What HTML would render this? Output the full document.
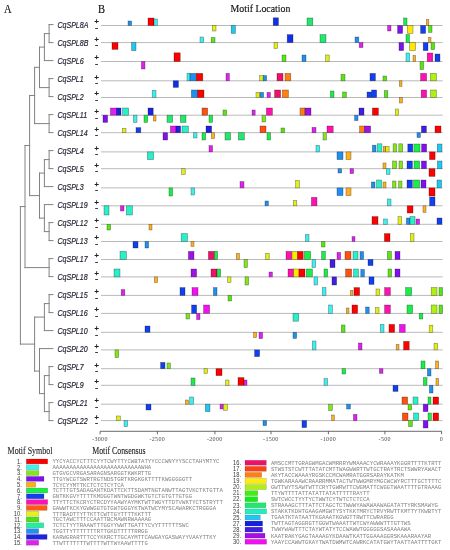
<!DOCTYPE html><html><head><meta charset="utf-8"><title>Motif Location</title><style>html,body{margin:0;padding:0;background:#fff;overflow:hidden}svg{display:block}</style></head><body>
<svg width="450" height="550" viewBox="0 0 450 550">
<rect width="450" height="550" fill="#fff"/>
<g font-family="'Liberation Serif', serif" fill="#111" stroke="#111" stroke-width="0.15">
<text transform="translate(3.9 12.5) scale(0.8 1)" font-size="13.2">A</text>
<text transform="translate(98.0 12.5) scale(0.8 1)" font-size="13.2">B</text>
<text x="230.6" y="11.8" font-size="11.2" textLength="59.8" lengthAdjust="spacingAndGlyphs">Motif Location</text>
</g>
<path d="M49.1 24.6V42.6M49.1 24.6H53M49.1 42.6H53M44.4 33.6V60.6M44.4 33.6H49.1M44.4 60.6H53M49.1 78.6V96.6M49.1 78.6H53M49.1 96.6H53M39.5 47.1V87.6M39.5 47.1H44.4M39.5 87.6H49.1M49.1 114.6V132.6M49.1 114.6H53M49.1 132.6H53M34.6 67.35V123.6M34.6 67.35H39.5M34.6 123.6H49.1M49.1 150.6V168.6M49.1 150.6H53M49.1 168.6H53M44.4 159.6V186.6M44.4 159.6H49.1M44.4 186.6H53M49.1 222.6V240.6M49.1 222.6H53M49.1 240.6H53M44.4 204.6V231.6M44.4 204.6H53M44.4 231.6H49.1M39.5 173.1V218.1M39.5 173.1H44.4M39.5 218.1H44.4M29.6 95.47V195.6M29.6 95.47H34.6M29.6 195.6H39.5M49.1 258.6V276.6M49.1 258.6H53M49.1 276.6H53M25 145.54V267.6M25 145.54H29.6M25 267.6H49.1M49.1 294.6V312.6M49.1 294.6H53M49.1 312.6H53M44.4 303.6V330.6M44.4 303.6H49.1M44.4 330.6H53M49.1 366.6V384.6M49.1 366.6H53M49.1 384.6H53M49.1 402.6V420.6M49.1 402.6H53M49.1 420.6H53M44.4 375.6V411.6M44.4 375.6H49.1M44.4 411.6H49.1M39.5 348.6V393.6M39.5 348.6H53M39.5 393.6H44.4M34.6 317.1V371.1M34.6 317.1H44.4M34.6 371.1H39.5M20.4 206.57V344.1M20.4 206.57H25M20.4 344.1H34.6" stroke="#828282" stroke-width="1" fill="none" stroke-linecap="square"/>
<g font-family="'Liberation Sans', sans-serif" font-style="italic" font-size="9.1" fill="#262636" stroke="#262636" stroke-width="0.2">
<text transform="translate(57.4 28.05) scale(0.778 1)">CqSPL8A</text>
<text transform="translate(57.4 46.05) scale(0.778 1)">CqSPL8B</text>
<text transform="translate(57.4 64.05) scale(0.778 1)">CqSPL6</text>
<text transform="translate(57.4 82.05) scale(0.778 1)">CqSPL1</text>
<text transform="translate(57.4 100.05) scale(0.778 1)">CqSPL2</text>
<text transform="translate(57.4 118.05) scale(0.778 1)">CqSPL11</text>
<text transform="translate(57.4 136.05) scale(0.778 1)">CqSPL14</text>
<text transform="translate(57.4 154.05) scale(0.778 1)">CqSPL4</text>
<text transform="translate(57.4 172.05) scale(0.778 1)">CqSPL5</text>
<text transform="translate(57.4 190.05) scale(0.778 1)">CqSPL3</text>
<text transform="translate(57.4 208.05) scale(0.778 1)">CqSPL19</text>
<text transform="translate(57.4 226.05) scale(0.778 1)">CqSPL12</text>
<text transform="translate(57.4 244.05) scale(0.778 1)">CqSPL13</text>
<text transform="translate(57.4 262.05) scale(0.778 1)">CqSPL17</text>
<text transform="translate(57.4 280.05) scale(0.778 1)">CqSPL18</text>
<text transform="translate(57.4 298.05) scale(0.778 1)">CqSPL15</text>
<text transform="translate(57.4 316.05) scale(0.778 1)">CqSPL16</text>
<text transform="translate(57.4 334.05) scale(0.778 1)">CqSPL10</text>
<text transform="translate(57.4 352.05) scale(0.778 1)">CqSPL20</text>
<text transform="translate(57.4 370.05) scale(0.778 1)">CqSPL7</text>
<text transform="translate(57.4 388.05) scale(0.778 1)">CqSPL9</text>
<text transform="translate(57.4 406.05) scale(0.778 1)">CqSPL21</text>
<text transform="translate(57.4 424.05) scale(0.778 1)">CqSPL22</text>
</g>
<g font-family="'Liberation Sans', sans-serif" fill="#1e1e1e" stroke="#1e1e1e" stroke-width="0.35" text-anchor="middle">
<text x="96.7" y="24.4" font-size="7.4">+</text>
<text x="96.7" y="31" font-size="9.6">-</text>
<text x="96.7" y="41.5" font-size="7.4">+</text>
<text x="96.7" y="48.1" font-size="9.6">-</text>
<text x="96.7" y="60.4" font-size="7.4">+</text>
<text x="96.7" y="67" font-size="9.6">-</text>
<text x="96.7" y="79.7" font-size="7.4">+</text>
<text x="96.7" y="86.3" font-size="9.6">-</text>
<text x="96.7" y="96.4" font-size="7.4">+</text>
<text x="96.7" y="103" font-size="9.6">-</text>
<text x="96.7" y="114.1" font-size="7.4">+</text>
<text x="96.7" y="120.7" font-size="9.6">-</text>
<text x="96.7" y="131.6" font-size="7.4">+</text>
<text x="96.7" y="138.2" font-size="9.6">-</text>
<text x="96.7" y="150.8" font-size="7.4">+</text>
<text x="96.7" y="157.4" font-size="9.6">-</text>
<text x="96.7" y="167.6" font-size="7.4">+</text>
<text x="96.7" y="174.2" font-size="9.6">-</text>
<text x="96.7" y="186.8" font-size="7.4">+</text>
<text x="96.7" y="193.4" font-size="9.6">-</text>
<text x="96.7" y="204.7" font-size="7.4">+</text>
<text x="96.7" y="211.3" font-size="9.6">-</text>
<text x="96.7" y="223.2" font-size="7.4">+</text>
<text x="96.7" y="229.8" font-size="9.6">-</text>
<text x="96.7" y="240.4" font-size="7.4">+</text>
<text x="96.7" y="247" font-size="9.6">-</text>
<text x="96.7" y="258.4" font-size="7.4">+</text>
<text x="96.7" y="265" font-size="9.6">-</text>
<text x="96.7" y="275.8" font-size="7.4">+</text>
<text x="96.7" y="282.4" font-size="9.6">-</text>
<text x="96.7" y="294.3" font-size="7.4">+</text>
<text x="96.7" y="300.9" font-size="9.6">-</text>
<text x="96.7" y="312.3" font-size="7.4">+</text>
<text x="96.7" y="318.9" font-size="9.6">-</text>
<text x="96.7" y="331.2" font-size="7.4">+</text>
<text x="96.7" y="337.8" font-size="9.6">-</text>
<text x="96.7" y="348.8" font-size="7.4">+</text>
<text x="96.7" y="355.4" font-size="9.6">-</text>
<text x="96.7" y="367.6" font-size="7.4">+</text>
<text x="96.7" y="374.2" font-size="9.6">-</text>
<text x="96.7" y="384.2" font-size="7.4">+</text>
<text x="96.7" y="390.8" font-size="9.6">-</text>
<text x="96.7" y="403.1" font-size="7.4">+</text>
<text x="96.7" y="409.7" font-size="9.6">-</text>
<text x="96.7" y="419.5" font-size="7.4">+</text>
<text x="96.7" y="426.1" font-size="9.6">-</text>
</g>
<path d="M101 25.5H442.6M101 42.6H442.6M101 61.5H442.6M101 80.8H442.6M101 97.5H442.6M101 115.2H442.6M101 132.7H442.6M101 151.9H442.6M101 168.7H442.6M101 187.9H442.6M101 205.8H442.6M101 224.3H442.6M101 241.5H442.6M101 259.5H442.6M101 276.9H442.6M101 295.4H442.6M101 313.4H442.6M101 332.3H442.6M101 349.9H442.6M101 368.7H442.6M101 385.3H442.6M101 404.2H442.6M101 420.6H442.6" stroke="#bababa" stroke-width="1.0" fill="none"/>
<g stroke="#000" stroke-opacity="0.45" stroke-width="0.6">
<rect x="128" y="21" width="3.6" height="4.5" fill="#2090f0"/>
<rect x="148" y="18" width="6" height="7.5" fill="#ff0000"/>
<rect x="154" y="19" width="3.4" height="6.5" fill="#3cf0f0"/>
<rect x="273.2" y="17.8" width="5.2" height="7.7" fill="#1030e8"/>
<rect x="307" y="18" width="5.8" height="7.5" fill="#20e870"/>
<rect x="403.6" y="18" width="3.4" height="7.5" fill="#18f048"/>
<rect x="426.4" y="19.4" width="2.4" height="6.1" fill="#ffb020"/>
<rect x="212.4" y="25.5" width="3.6" height="5.5" fill="#e0f010"/>
<rect x="231.2" y="25.5" width="4.2" height="7.9" fill="#20c8f0"/>
<rect x="387.6" y="25.5" width="3.4" height="5.5" fill="#e020f0"/>
<rect x="397.6" y="25.5" width="5" height="7.9" fill="#8010f0"/>
<rect x="407.4" y="25.5" width="5.6" height="7.9" fill="#ffe800"/>
<rect x="420.6" y="25.5" width="5" height="7.9" fill="#1040f0"/>
<rect x="428.6" y="25.5" width="3.4" height="6.9" fill="#58e810"/>
<rect x="200" y="37" width="3.6" height="5.6" fill="#3cf0f0"/>
<rect x="211.2" y="37.6" width="3.8" height="5" fill="#58e810"/>
<rect x="287.2" y="34.6" width="5.8" height="8" fill="#1030e8"/>
<rect x="320" y="34.6" width="6" height="8" fill="#20e870"/>
<rect x="355" y="37" width="3.8" height="5.6" fill="#2090f0"/>
<rect x="406" y="34.6" width="3.4" height="8" fill="#18f048"/>
<rect x="428.6" y="37.4" width="2.4" height="5.2" fill="#ffb020"/>
<rect x="112" y="42.6" width="6" height="6.8" fill="#ff0000"/>
<rect x="131.6" y="42.6" width="4.4" height="8" fill="#20c8f0"/>
<rect x="274" y="42.6" width="3.6" height="5.9" fill="#e0f010"/>
<rect x="359.2" y="42.6" width="3.8" height="5" fill="#e020f0"/>
<rect x="399" y="42.6" width="4.6" height="8" fill="#8010f0"/>
<rect x="409.6" y="42.6" width="6" height="8" fill="#ffe800"/>
<rect x="423.2" y="42.6" width="4.8" height="8" fill="#1040f0"/>
<rect x="431" y="42.6" width="3.6" height="7" fill="#58e810"/>
<rect x="174" y="52.8" width="6.2" height="8.7" fill="#ff0000"/>
<rect x="282" y="55" width="4" height="6.5" fill="#58e810"/>
<rect x="302" y="55" width="4" height="6.5" fill="#2090f0"/>
<rect x="325.6" y="55" width="3.6" height="6.5" fill="#e0f010"/>
<rect x="406" y="53" width="3.6" height="8.5" fill="#3cf0f0"/>
<rect x="413" y="55.4" width="2.6" height="6.1" fill="#ffb020"/>
<rect x="427.2" y="53" width="5.6" height="8.5" fill="#ff10b0"/>
<rect x="435" y="54" width="5" height="7.5" fill="#1040f0"/>
<rect x="141.4" y="61.5" width="3.6" height="7.5" fill="#e020f0"/>
<rect x="420" y="61.5" width="3.6" height="8.1" fill="#58e810"/>
<rect x="187" y="73.4" width="3" height="7.4" fill="#3cf0f0"/>
<rect x="190" y="73.4" width="6.4" height="7.4" fill="#2090f0"/>
<rect x="196.4" y="73.4" width="6.4" height="7.4" fill="#ff0000"/>
<rect x="226" y="73.4" width="3.4" height="7.4" fill="#e020f0"/>
<rect x="259.6" y="75.6" width="3.6" height="5.2" fill="#e0f010"/>
<rect x="263.2" y="75.6" width="3.4" height="5.2" fill="#2090f0"/>
<rect x="277" y="73.4" width="6" height="7.4" fill="#f01068"/>
<rect x="285" y="73.4" width="5.8" height="7.4" fill="#ff8010"/>
<rect x="341" y="74.4" width="4" height="6.4" fill="#58e810"/>
<rect x="370" y="73.4" width="5.4" height="7.4" fill="#1040f0"/>
<rect x="383" y="76" width="3.6" height="4.8" fill="#58e810"/>
<rect x="420.6" y="73.4" width="6" height="7.4" fill="#ff10b0"/>
<rect x="430.4" y="73.4" width="6" height="7.4" fill="#b0f010"/>
<rect x="173.2" y="80.8" width="5.2" height="6.6" fill="#1030e8"/>
<rect x="399.4" y="80.8" width="2.6" height="5.6" fill="#ffb020"/>
<rect x="152.2" y="90.4" width="3.8" height="7.1" fill="#3cf0f0"/>
<rect x="191.4" y="90" width="6.2" height="7.5" fill="#2090f0"/>
<rect x="197.6" y="90" width="6.4" height="7.5" fill="#ff0000"/>
<rect x="256" y="92.4" width="3.6" height="5.1" fill="#e0f010"/>
<rect x="260" y="92.4" width="3.6" height="5.1" fill="#2090f0"/>
<rect x="267" y="92.4" width="3.4" height="5.1" fill="#e020f0"/>
<rect x="274.6" y="90" width="6" height="7.5" fill="#f01068"/>
<rect x="282.4" y="90" width="6" height="7.5" fill="#ff8010"/>
<rect x="330.4" y="91" width="3.6" height="6.5" fill="#18f048"/>
<rect x="342.6" y="92" width="3.8" height="5.5" fill="#58e810"/>
<rect x="367" y="92" width="4.6" height="5.5" fill="#1040f0"/>
<rect x="371.6" y="90" width="5" height="7.5" fill="#1040f0"/>
<rect x="384.4" y="90.6" width="3.4" height="6.9" fill="#58e810"/>
<rect x="421.2" y="90" width="5.4" height="7.5" fill="#ff10b0"/>
<rect x="430.6" y="90" width="5.8" height="7.5" fill="#b0f010"/>
<rect x="399.4" y="97.5" width="3" height="5.5" fill="#ffb020"/>
<rect x="110.4" y="108" width="6" height="7.2" fill="#e020f0"/>
<rect x="116.4" y="108" width="4.6" height="7.2" fill="#2020e0"/>
<rect x="122.6" y="108" width="6" height="7.2" fill="#28f0c8"/>
<rect x="148" y="108" width="5.2" height="7.2" fill="#2020e0"/>
<rect x="202" y="108" width="5.6" height="7.2" fill="#ff5010"/>
<rect x="223" y="110" width="3.6" height="5.2" fill="#58e810"/>
<rect x="252" y="110" width="3.2" height="5.2" fill="#e020f0"/>
<rect x="266.4" y="108" width="6" height="7.2" fill="#ff10b0"/>
<rect x="300" y="108" width="5" height="7.2" fill="#ff8010"/>
<rect x="305" y="108" width="6" height="7.2" fill="#a010e8"/>
<rect x="359" y="108" width="5" height="7.2" fill="#4020e0"/>
<rect x="372.4" y="108" width="6" height="7.2" fill="#ff0000"/>
<rect x="395.4" y="109" width="3.2" height="6.2" fill="#e0f010"/>
<rect x="103" y="115.2" width="4.6" height="7.2" fill="#8010f0"/>
<rect x="133.4" y="115.2" width="3.6" height="7.2" fill="#3cf0f0"/>
<rect x="144" y="115.2" width="3.6" height="7.2" fill="#18f048"/>
<rect x="153.4" y="115.2" width="2.6" height="5.8" fill="#ffb020"/>
<rect x="167" y="115.2" width="5.6" height="7.2" fill="#20e870"/>
<rect x="180.4" y="115.2" width="5.6" height="7.2" fill="#20e870"/>
<rect x="209" y="115.2" width="3.6" height="7.2" fill="#18f048"/>
<rect x="262" y="115.2" width="3.6" height="6.8" fill="#80e818"/>
<rect x="354.6" y="115.2" width="3.4" height="5.4" fill="#2090f0"/>
<rect x="122.4" y="128.4" width="3.6" height="4.3" fill="#e0f010"/>
<rect x="136" y="127.6" width="4.8" height="5.1" fill="#1040f0"/>
<rect x="170.4" y="126" width="5.6" height="6.7" fill="#e020f0"/>
<rect x="176" y="126" width="4.6" height="6.7" fill="#2020e0"/>
<rect x="182" y="126" width="6.4" height="6.7" fill="#28f0c8"/>
<rect x="206" y="126" width="5.6" height="6.7" fill="#2020e0"/>
<rect x="260" y="126" width="6" height="6.7" fill="#ff5010"/>
<rect x="281" y="128" width="3.6" height="4.7" fill="#58e810"/>
<rect x="312" y="127.4" width="4" height="5.3" fill="#e020f0"/>
<rect x="327" y="126" width="6.2" height="6.7" fill="#ff10b0"/>
<rect x="359.6" y="126" width="4.8" height="6.7" fill="#ff8010"/>
<rect x="364.4" y="126" width="6.2" height="6.7" fill="#a010e8"/>
<rect x="421.4" y="126" width="5" height="6.7" fill="#4020e0"/>
<rect x="435" y="126" width="6" height="6.7" fill="#ff0000"/>
<rect x="163" y="132.7" width="4.6" height="7.3" fill="#8010f0"/>
<rect x="193.4" y="132.7" width="3.6" height="5.3" fill="#3cf0f0"/>
<rect x="202" y="132.7" width="3.6" height="7.3" fill="#18f048"/>
<rect x="211.4" y="132.7" width="3.2" height="5.9" fill="#ffb020"/>
<rect x="225" y="132.7" width="5.6" height="7.3" fill="#20e870"/>
<rect x="238.4" y="132.7" width="6" height="7.3" fill="#20e870"/>
<rect x="267" y="132.7" width="3.6" height="7.3" fill="#18f048"/>
<rect x="323" y="132.7" width="3.4" height="7.3" fill="#80e818"/>
<rect x="417" y="132.7" width="3.4" height="4.9" fill="#2090f0"/>
<rect x="209" y="145.6" width="3.6" height="6.3" fill="#e020f0"/>
<rect x="316" y="145.4" width="3.6" height="6.5" fill="#3cf0f0"/>
<rect x="372.4" y="145.2" width="3.6" height="6.7" fill="#2090f0"/>
<rect x="377.2" y="143.8" width="4.7" height="8.1" fill="#28f0c8"/>
<rect x="383.3" y="146.4" width="2.4" height="5.5" fill="#ffb020"/>
<rect x="385.7" y="146.4" width="3.4" height="5.5" fill="#e0f010"/>
<rect x="393.1" y="143.8" width="3.5" height="8.1" fill="#80e818"/>
<rect x="398.8" y="143.8" width="3.9" height="8.1" fill="#80e818"/>
<rect x="407.8" y="144" width="5" height="7.9" fill="#1040f0"/>
<rect x="413.9" y="144" width="6.1" height="7.9" fill="#18f048"/>
<rect x="421.6" y="144" width="5" height="7.9" fill="#8010f0"/>
<rect x="437.3" y="144" width="4.7" height="7.9" fill="#20c8f0"/>
<rect x="147.4" y="151.9" width="6.2" height="7.7" fill="#28f0c8"/>
<rect x="337" y="151.9" width="6" height="7.7" fill="#2090f0"/>
<rect x="346" y="151.9" width="5" height="7.7" fill="#ffb020"/>
<rect x="429.5" y="151.9" width="5.6" height="7.7" fill="#ff0000"/>
<rect x="383" y="163" width="3" height="5.7" fill="#ffb020"/>
<rect x="392.6" y="161" width="4" height="7.7" fill="#80e818"/>
<rect x="399" y="161" width="3.6" height="7.7" fill="#80e818"/>
<rect x="407" y="161" width="5.4" height="7.7" fill="#1040f0"/>
<rect x="414" y="161" width="5.6" height="7.7" fill="#18f048"/>
<rect x="421.4" y="161" width="5" height="7.7" fill="#8010f0"/>
<rect x="437.4" y="161" width="4.6" height="7.7" fill="#20c8f0"/>
<rect x="181.6" y="168.7" width="3.6" height="5.7" fill="#e0f010"/>
<rect x="338" y="168.7" width="3.6" height="4.3" fill="#2090f0"/>
<rect x="350" y="168.7" width="3.6" height="4.9" fill="#e020f0"/>
<rect x="386.4" y="168.7" width="3.6" height="5.7" fill="#3cf0f0"/>
<rect x="429" y="168.7" width="6" height="7.7" fill="#ff0000"/>
<rect x="240" y="181.6" width="4" height="6.3" fill="#e020f0"/>
<rect x="295.6" y="180.6" width="3.8" height="7.3" fill="#e0f010"/>
<rect x="371.4" y="182" width="3.6" height="5.9" fill="#2090f0"/>
<rect x="376.6" y="180" width="5" height="7.9" fill="#28f0c8"/>
<rect x="383" y="182" width="3" height="5.9" fill="#ffb020"/>
<rect x="392.6" y="181" width="3.4" height="6.9" fill="#80e818"/>
<rect x="398.6" y="181" width="3.4" height="6.9" fill="#80e818"/>
<rect x="407" y="180" width="5.4" height="7.9" fill="#1040f0"/>
<rect x="413.6" y="180" width="6" height="7.9" fill="#18f048"/>
<rect x="421" y="180" width="5" height="7.9" fill="#8010f0"/>
<rect x="437" y="180" width="4.6" height="7.9" fill="#20c8f0"/>
<rect x="169" y="187.9" width="3.6" height="8.1" fill="#18f048"/>
<rect x="191" y="187.9" width="3.6" height="7.1" fill="#3cf0f0"/>
<rect x="337" y="187.9" width="6" height="7.7" fill="#2090f0"/>
<rect x="346" y="187.9" width="5" height="7.7" fill="#ffb020"/>
<rect x="429" y="187.9" width="6" height="8.1" fill="#ff0000"/>
<rect x="265" y="201" width="3.4" height="4.8" fill="#2090f0"/>
<rect x="293.4" y="200.4" width="3.4" height="5.4" fill="#e0f010"/>
<rect x="311.4" y="197.4" width="5.6" height="8.4" fill="#ff10b0"/>
<rect x="387.4" y="199" width="3.6" height="6.8" fill="#3cf0f0"/>
<rect x="429.6" y="197" width="5.4" height="8.8" fill="#1040f0"/>
<rect x="104" y="205.8" width="5" height="9.2" fill="#28f0c8"/>
<rect x="120.4" y="205.8" width="3.6" height="5.2" fill="#e020f0"/>
<rect x="126.4" y="205.8" width="6" height="9.2" fill="#28f0c8"/>
<rect x="407.2" y="205.8" width="5.8" height="7.2" fill="#ff0000"/>
<rect x="423" y="205.8" width="3" height="6.6" fill="#ffb020"/>
<rect x="372" y="216.6" width="6" height="7.7" fill="#ff0000"/>
<rect x="383.6" y="219" width="3.8" height="5.3" fill="#3cf0f0"/>
<rect x="398" y="216.6" width="3.6" height="7.7" fill="#e0f010"/>
<rect x="406.4" y="218" width="3.6" height="6.3" fill="#2090f0"/>
<rect x="410" y="216.6" width="5" height="7.7" fill="#28f0c8"/>
<rect x="416" y="219" width="3.6" height="5.3" fill="#e020f0"/>
<rect x="437" y="218" width="5" height="6.3" fill="#1040f0"/>
<rect x="107" y="224.3" width="3.6" height="5.7" fill="#58e810"/>
<rect x="149" y="224.3" width="3" height="5.7" fill="#ffb020"/>
<rect x="181.2" y="233.6" width="6.2" height="7.9" fill="#28f0c8"/>
<rect x="305.4" y="234.6" width="3.6" height="6.9" fill="#3cf0f0"/>
<rect x="352" y="236.6" width="3" height="4.9" fill="#e020f0"/>
<rect x="384.4" y="233.6" width="5.6" height="7.9" fill="#ff0000"/>
<rect x="410.4" y="233.6" width="3.6" height="7.9" fill="#e0f010"/>
<rect x="133" y="241.5" width="5" height="6.5" fill="#1040f0"/>
<rect x="145" y="241.5" width="3.6" height="6.5" fill="#2090f0"/>
<rect x="191" y="241.5" width="3" height="4.9" fill="#ffb020"/>
<rect x="321.4" y="241.5" width="3.6" height="5.5" fill="#58e810"/>
<rect x="120" y="251.4" width="6.4" height="8.1" fill="#28f0c8"/>
<rect x="188.4" y="251.4" width="5.6" height="8.1" fill="#a010e8"/>
<rect x="208.4" y="251.4" width="6" height="8.1" fill="#f01068"/>
<rect x="214.4" y="251.4" width="3.2" height="8.1" fill="#18f048"/>
<rect x="236.4" y="253.4" width="3" height="6.1" fill="#ffb020"/>
<rect x="265.6" y="253.4" width="3.6" height="6.1" fill="#e0f010"/>
<rect x="286" y="251.4" width="5.6" height="8.1" fill="#ff10b0"/>
<rect x="292" y="251.4" width="5.6" height="8.1" fill="#ffe800"/>
<rect x="297.6" y="251.4" width="5.6" height="8.1" fill="#ff0000"/>
<rect x="304.4" y="251.4" width="6.2" height="8.1" fill="#18f048"/>
<rect x="321.6" y="251.4" width="3.8" height="8.1" fill="#18f048"/>
<rect x="337" y="252.4" width="3.6" height="7.1" fill="#e020f0"/>
<rect x="345" y="251.4" width="6" height="8.1" fill="#ff5010"/>
<rect x="353" y="251.4" width="5" height="8.1" fill="#28f0c8"/>
<rect x="360" y="251.6" width="3.6" height="7.9" fill="#2090f0"/>
<rect x="387.4" y="251.4" width="4" height="8.1" fill="#58e810"/>
<rect x="395" y="251.4" width="5" height="8.1" fill="#8010f0"/>
<rect x="244" y="259.5" width="3.4" height="8.1" fill="#80e818"/>
<rect x="312" y="259.5" width="3.6" height="8.1" fill="#3cf0f0"/>
<rect x="330" y="259.5" width="5" height="8.1" fill="#4020e0"/>
<rect x="368" y="259.5" width="5" height="6.1" fill="#1040f0"/>
<rect x="114" y="269" width="6" height="7.9" fill="#28f0c8"/>
<rect x="191" y="269" width="5.6" height="7.9" fill="#a010e8"/>
<rect x="211" y="269" width="6" height="7.9" fill="#f01068"/>
<rect x="217" y="269" width="3.6" height="7.9" fill="#18f048"/>
<rect x="269" y="272" width="3.4" height="4.9" fill="#e020f0"/>
<rect x="288" y="269" width="5.6" height="7.9" fill="#ff10b0"/>
<rect x="293.6" y="269" width="5.4" height="7.9" fill="#ffe800"/>
<rect x="299" y="269" width="6" height="7.9" fill="#ff0000"/>
<rect x="306.4" y="269" width="6" height="7.9" fill="#18f048"/>
<rect x="324" y="269" width="3.6" height="7.9" fill="#18f048"/>
<rect x="345.6" y="269" width="6" height="7.9" fill="#ff5010"/>
<rect x="353.6" y="269" width="4.8" height="7.9" fill="#28f0c8"/>
<rect x="360.8" y="269.4" width="3.6" height="7.5" fill="#2090f0"/>
<rect x="388" y="269" width="3.6" height="7.9" fill="#58e810"/>
<rect x="395" y="269" width="5" height="7.9" fill="#8010f0"/>
<rect x="154.4" y="276.9" width="3.2" height="5.7" fill="#ffb020"/>
<rect x="227.6" y="276.9" width="3.4" height="5.5" fill="#e0f010"/>
<rect x="245" y="276.9" width="3.6" height="8.1" fill="#80e818"/>
<rect x="314" y="276.9" width="3.6" height="8.1" fill="#3cf0f0"/>
<rect x="332" y="276.9" width="4.6" height="8.1" fill="#4020e0"/>
<rect x="369" y="276.9" width="5" height="7.5" fill="#1040f0"/>
<rect x="121.2" y="289.6" width="3.6" height="5.8" fill="#e020f0"/>
<rect x="180" y="287.6" width="5" height="7.8" fill="#1040f0"/>
<rect x="192" y="287.6" width="6" height="7.8" fill="#f010f0"/>
<rect x="213.4" y="287.6" width="3.6" height="7.8" fill="#2090f0"/>
<rect x="322.4" y="287.6" width="3.6" height="7.8" fill="#3cf0f0"/>
<rect x="350.4" y="290.4" width="2.6" height="5" fill="#ffb020"/>
<rect x="354" y="287.6" width="5.6" height="7.8" fill="#ff0000"/>
<rect x="376" y="289" width="3.6" height="6.4" fill="#e0f010"/>
<rect x="384.6" y="287.6" width="5.8" height="7.8" fill="#ff10b0"/>
<rect x="405.6" y="287.6" width="6" height="7.8" fill="#18f048"/>
<rect x="431.2" y="287.6" width="5.8" height="7.8" fill="#b0f010"/>
<rect x="439" y="287.6" width="3.6" height="7.8" fill="#58e810"/>
<rect x="228" y="295.4" width="3.6" height="5.6" fill="#58e810"/>
<rect x="191.6" y="305" width="5" height="8.4" fill="#1040f0"/>
<rect x="203.6" y="305" width="6" height="8.4" fill="#f010f0"/>
<rect x="328.6" y="305" width="3.8" height="8.4" fill="#3cf0f0"/>
<rect x="346.4" y="308" width="2.6" height="5.4" fill="#ffb020"/>
<rect x="352" y="305" width="5.6" height="8.4" fill="#ff0000"/>
<rect x="365.6" y="307" width="3.6" height="6.4" fill="#2090f0"/>
<rect x="375.4" y="307.6" width="3.6" height="5.8" fill="#e0f010"/>
<rect x="384.6" y="305" width="5.8" height="8.4" fill="#ff10b0"/>
<rect x="407" y="305" width="5.6" height="8.4" fill="#18f048"/>
<rect x="431.2" y="305" width="5.8" height="8.4" fill="#b0f010"/>
<rect x="439" y="305" width="3.6" height="8.4" fill="#58e810"/>
<rect x="186" y="313.4" width="3.6" height="5.6" fill="#80e818"/>
<rect x="196.6" y="313.4" width="3.4" height="6.2" fill="#e020f0"/>
<rect x="293" y="313.4" width="5.6" height="7.8" fill="#28f0c8"/>
<rect x="419.2" y="313.4" width="3.6" height="5.6" fill="#18f048"/>
<rect x="145" y="326" width="5" height="6.3" fill="#1040f0"/>
<rect x="341.4" y="325" width="3.6" height="7.3" fill="#58e810"/>
<rect x="380.4" y="324.4" width="3.6" height="7.9" fill="#3cf0f0"/>
<rect x="389" y="324.4" width="5.6" height="7.9" fill="#ff0000"/>
<rect x="399.4" y="324.4" width="5.8" height="7.9" fill="#f010f0"/>
<rect x="429.2" y="325.2" width="3.6" height="7.1" fill="#e0f010"/>
<rect x="253.6" y="332.3" width="3" height="5.3" fill="#ffb020"/>
<rect x="259" y="332.3" width="3.6" height="6.3" fill="#e020f0"/>
<rect x="293" y="332.3" width="3.6" height="6.1" fill="#2090f0"/>
<rect x="312.4" y="341" width="3.6" height="8.9" fill="#3cf0f0"/>
<rect x="358.4" y="343" width="3.6" height="6.9" fill="#e020f0"/>
<rect x="396.2" y="344.4" width="2.8" height="5.5" fill="#ffb020"/>
<rect x="403.6" y="341.4" width="5.6" height="8.5" fill="#ff0000"/>
<rect x="434" y="343.4" width="3.6" height="6.5" fill="#e0f010"/>
<rect x="115" y="349.9" width="3.6" height="7.7" fill="#80e818"/>
<rect x="254.6" y="349.9" width="5" height="6.7" fill="#1040f0"/>
<rect x="160.6" y="362.4" width="4.4" height="6.3" fill="#1040f0"/>
<rect x="167" y="363" width="3.4" height="5.7" fill="#80e818"/>
<rect x="421" y="361" width="4" height="7.7" fill="#18f048"/>
<rect x="435.6" y="361" width="3" height="7.7" fill="#ffb020"/>
<rect x="204" y="368.7" width="3.6" height="4.7" fill="#e0f010"/>
<rect x="216" y="368.7" width="6" height="6.9" fill="#ff0000"/>
<rect x="342" y="368.7" width="3.6" height="5.3" fill="#18f048"/>
<rect x="379.4" y="368.7" width="3.6" height="4.7" fill="#e020f0"/>
<rect x="427.4" y="368.7" width="3.6" height="7.3" fill="#2090f0"/>
<rect x="191" y="378" width="4" height="7.3" fill="#18f048"/>
<rect x="225.6" y="380" width="3.4" height="5.3" fill="#e0f010"/>
<rect x="238" y="377.6" width="6" height="7.7" fill="#ff0000"/>
<rect x="244" y="380" width="3" height="5.3" fill="#e020f0"/>
<rect x="324" y="378.6" width="3.6" height="6.7" fill="#3cf0f0"/>
<rect x="423.4" y="377.6" width="3.6" height="7.7" fill="#18f048"/>
<rect x="436" y="378.4" width="2.6" height="6.9" fill="#ffb020"/>
<rect x="393" y="385.3" width="5" height="6.1" fill="#1040f0"/>
<rect x="429.4" y="385.3" width="3.6" height="7.7" fill="#2090f0"/>
<rect x="185.4" y="400" width="3" height="4.2" fill="#ffb020"/>
<rect x="189.6" y="397" width="4" height="7.2" fill="#3cf0f0"/>
<rect x="402" y="397" width="5.6" height="7.2" fill="#ff5010"/>
<rect x="413" y="397" width="5" height="7.2" fill="#28f0c8"/>
<rect x="428" y="397" width="3" height="7.2" fill="#18f048"/>
<rect x="433" y="397" width="5.6" height="7.2" fill="#ff0000"/>
<rect x="146" y="404.2" width="5" height="5.8" fill="#1040f0"/>
<rect x="205.4" y="404.2" width="4.6" height="7.4" fill="#20c8f0"/>
<rect x="220" y="404.2" width="3.2" height="4.8" fill="#e020f0"/>
<rect x="223.6" y="404.2" width="3.8" height="6.2" fill="#e0f010"/>
<rect x="328.6" y="404.2" width="3.8" height="6.4" fill="#80e818"/>
<rect x="346.6" y="404.2" width="3.8" height="4.8" fill="#2090f0"/>
<rect x="408" y="404.2" width="3.6" height="5.8" fill="#58e810"/>
<rect x="423.2" y="404.2" width="4.8" height="7.4" fill="#8010f0"/>
<rect x="116.4" y="416" width="4" height="4.6" fill="#e0f010"/>
<rect x="331.6" y="415" width="2.8" height="5.6" fill="#ffb020"/>
<rect x="353.4" y="414.4" width="3.6" height="6.2" fill="#e020f0"/>
<rect x="402.4" y="413" width="5.6" height="7.6" fill="#ff5010"/>
<rect x="413.6" y="413" width="5" height="7.6" fill="#28f0c8"/>
<rect x="428" y="413" width="3.4" height="7.6" fill="#18f048"/>
<rect x="433" y="413" width="5.6" height="7.6" fill="#ff0000"/>
<rect x="124" y="420.6" width="3.6" height="6" fill="#3cf0f0"/>
<rect x="263" y="420.6" width="3.6" height="5" fill="#2090f0"/>
<rect x="302" y="420.6" width="4.6" height="7" fill="#1040f0"/>
<rect x="408.6" y="420.6" width="3.8" height="6" fill="#58e810"/>
<rect x="423.2" y="420.6" width="4.8" height="7.4" fill="#8010f0"/>
</g>
<path d="M100.1 431.3H441.6M100.1 431.3V434.3M157.4 431.3V434.3M214.9 431.3V434.3M271 431.3V434.3M328.4 431.3V434.3M384.9 431.3V434.3M441.6 431.3V434.3" stroke="#444" stroke-width="0.8" fill="none"/>
<g font-family="'Liberation Serif', serif" font-size="6.0" fill="#4a4a4a" text-anchor="middle">
<text x="99.8" y="440.7" textLength="15.26" lengthAdjust="spacing">-3000</text>
<text x="157.1" y="440.7" textLength="15.26" lengthAdjust="spacing">-2500</text>
<text x="214.6" y="440.7" textLength="15.26" lengthAdjust="spacing">-2000</text>
<text x="270.7" y="440.7" textLength="15.26" lengthAdjust="spacing">-1500</text>
<text x="328.1" y="440.7" textLength="15.26" lengthAdjust="spacing">-1000</text>
<text x="384.6" y="440.7" textLength="11.99" lengthAdjust="spacing">-500</text>
<text x="441.3" y="440.7" textLength="3.27" lengthAdjust="spacing">0</text>
</g>
<g font-family="'Liberation Serif', serif" font-size="10.0" fill="#1a1a1a" stroke="#1a1a1a" stroke-width="0.1">
<text x="7.6" y="453.6" textLength="44.8" lengthAdjust="spacingAndGlyphs">Motif Symbol</text>
<text x="92.2" y="453.6" textLength="53.4" lengthAdjust="spacingAndGlyphs">Motif Consensus</text>
</g>
<style>.n{font-family:"Liberation Sans",sans-serif;font-size:8.0px;fill:#3a3a3a;text-anchor:end}.s{font-family:"Liberation Mono",monospace;font-size:6.2px;fill:#828282}</style>
<rect x="26.3" y="459" width="21.4" height="4.9" fill="#ff0000" stroke="#000" stroke-opacity="0.25" stroke-width="0.5"/>
<text class="n" transform="translate(21.8 463.7) scale(0.72 1)">1.</text>
<text class="s" x="52.4" y="463.3" textLength="167.09" lengthAdjust="spacingAndGlyphs">YYCYACCYCTTTCYYTCWYTTYCWBTATYYCCCWNYYYSCCTAHYMTYC</text>
<rect x="26.3" y="464.81" width="12.6" height="4.9" fill="#40f0f0" stroke="#000" stroke-opacity="0.25" stroke-width="0.5"/>
<text class="n" transform="translate(21.8 469.51) scale(0.72 1)">2.</text>
<text class="s" x="52.4" y="469.11" textLength="98.89" lengthAdjust="spacingAndGlyphs">AAAAAAAAAAAAAAAAAAAAAAAAAAWHA</text>
<rect x="26.3" y="470.61" width="12.6" height="4.9" fill="#80e818" stroke="#000" stroke-opacity="0.25" stroke-width="0.5"/>
<text class="n" transform="translate(21.8 475.31) scale(0.72 1)">3.</text>
<text class="s" x="52.4" y="474.91" textLength="98.89" lengthAdjust="spacingAndGlyphs">GTGVGCVRGASARAGNSARGGTKWKRTTG</text>
<rect x="26.3" y="476.42" width="17.7" height="4.9" fill="#8010f0" stroke="#000" stroke-opacity="0.25" stroke-width="0.5"/>
<text class="n" transform="translate(21.8 481.12) scale(0.72 1)">4.</text>
<text class="s" x="52.4" y="480.72" textLength="139.81" lengthAdjust="spacingAndGlyphs">TTGYWCGTSWRTRGTNDSTGRTKRGKGKTTTTKWGGGGGTT</text>
<rect x="26.3" y="482.23" width="9.4" height="4.9" fill="#ffb010" stroke="#000" stroke-opacity="0.25" stroke-width="0.5"/>
<text class="n" transform="translate(21.8 486.93) scale(0.72 1)">5.</text>
<text class="s" x="52.4" y="486.53" textLength="71.61" lengthAdjust="spacingAndGlyphs">TCYCYYMTTKCTCTCTCYTCA</text>
<rect x="26.3" y="488.04" width="21.4" height="4.9" fill="#18f048" stroke="#000" stroke-opacity="0.25" stroke-width="0.5"/>
<text class="n" transform="translate(21.8 492.74) scale(0.72 1)">6.</text>
<text class="s" x="52.4" y="492.34" textLength="170.5" lengthAdjust="spacingAndGlyphs">TCTTTGTSADAGANTKDATTCKTTSDAMTNGTANWTTAGTVKCTKTGTTA</text>
<rect x="26.3" y="493.84" width="17.7" height="4.9" fill="#1040f0" stroke="#000" stroke-opacity="0.25" stroke-width="0.5"/>
<text class="n" transform="translate(21.8 498.54) scale(0.72 1)">7.</text>
<text class="s" x="52.4" y="498.14" textLength="139.81" lengthAdjust="spacingAndGlyphs">GNTKKGVYTTTTKMDGGTWNTWGDGWKTGTCTGTGTTGTGG</text>
<rect x="26.3" y="499.65" width="21.4" height="4.9" fill="#ff10b0" stroke="#000" stroke-opacity="0.25" stroke-width="0.5"/>
<text class="n" transform="translate(21.8 504.35) scale(0.72 1)">8.</text>
<text class="s" x="52.4" y="503.95" textLength="170.5" lengthAdjust="spacingAndGlyphs">TTYTTCTKCRYCTRCDYYAAWYAYMKTWTTWGYTTDTVWKTYCTSTRYTT</text>
<rect x="26.3" y="505.46" width="20.8" height="4.9" fill="#ff5a10" stroke="#000" stroke-opacity="0.25" stroke-width="0.5"/>
<text class="n" transform="translate(21.8 510.16) scale(0.72 1)">9.</text>
<text class="s" x="52.4" y="509.76" textLength="163.68" lengthAdjust="spacingAndGlyphs">GAWWTKCKYGWWGGTGTGWTGGGYKTWATWCYMYSCAWARKCTRGGGA</text>
<rect x="26.3" y="511.26" width="12.6" height="4.9" fill="#e8f020" stroke="#000" stroke-opacity="0.25" stroke-width="0.5"/>
<text class="n" transform="translate(21.8 515.96) scale(0.72 1)">10.</text>
<text class="s" x="52.4" y="515.56" textLength="98.89" lengthAdjust="spacingAndGlyphs">TTTBADTTYTTKTTCWTTGYTTTTKKTTT</text>
<rect x="26.3" y="517.07" width="12.6" height="4.9" fill="#50e010" stroke="#000" stroke-opacity="0.25" stroke-width="0.5"/>
<text class="n" transform="translate(21.8 521.77) scale(0.72 1)">11.</text>
<text class="s" x="52.4" y="521.37" textLength="98.89" lengthAdjust="spacingAndGlyphs">TGCTAWCTTTCCAATTBCMAWNRWAAAAG</text>
<rect x="26.3" y="522.88" width="17.4" height="4.9" fill="#20f0a0" stroke="#000" stroke-opacity="0.25" stroke-width="0.5"/>
<text class="n" transform="translate(21.8 527.58) scale(0.72 1)">12.</text>
<text class="s" x="52.4" y="527.18" textLength="136.4" lengthAdjust="spacingAndGlyphs">TCTCTYYTRAAWTTTGGYYWWTTGATTYCVYTTTTTTSWC</text>
<rect x="26.3" y="528.68" width="12.4" height="4.9" fill="#2090f0" stroke="#000" stroke-opacity="0.25" stroke-width="0.5"/>
<text class="n" transform="translate(21.8 533.38) scale(0.72 1)">13.</text>
<text class="s" x="52.4" y="532.98" textLength="95.48" lengthAdjust="spacingAndGlyphs">TGGTTYTTTTTTTRTTGKDTTTTTRRGG</text>
<rect x="26.3" y="534.49" width="20.8" height="4.9" fill="#2020e0" stroke="#000" stroke-opacity="0.25" stroke-width="0.5"/>
<text class="n" transform="translate(21.8 539.19) scale(0.72 1)">14.</text>
<text class="s" x="52.4" y="538.79" textLength="163.68" lengthAdjust="spacingAndGlyphs">KARWGRARTTTCCYKKRCTTGCAYMTTCAWGAYGASWAYYVAAYTTKY</text>
<rect x="26.3" y="540.3" width="12.4" height="4.9" fill="#e020f0" stroke="#000" stroke-opacity="0.25" stroke-width="0.5"/>
<text class="n" transform="translate(21.8 545) scale(0.72 1)">15.</text>
<text class="s" x="52.4" y="544.6" textLength="95.48" lengthAdjust="spacingAndGlyphs">TTWTTTTTTTWTTTTWTTWYAAWTTTTG</text>
<rect x="245" y="460.3" width="21.3" height="4.9" fill="#f0106a" stroke="#000" stroke-opacity="0.25" stroke-width="0.5"/>
<text class="n" transform="translate(241 465) scale(0.72 1)">16.</text>
<text class="s" x="270.9" y="464.6" textLength="170.5" lengthAdjust="spacingAndGlyphs">AMSCCMTTGRAGWMGACWMRRRYWMAAACYCWRAAAYKGGRTTTTKTRTT</text>
<rect x="245" y="466.38" width="21.3" height="4.9" fill="#ff4010" stroke="#000" stroke-opacity="0.25" stroke-width="0.5"/>
<text class="n" transform="translate(241 471.08) scale(0.72 1)">17.</text>
<text class="s" x="270.9" y="470.68" textLength="170.5" lengthAdjust="spacingAndGlyphs">STWSTSTCWTTTATATCMTTWAGWWRTTWTGCTRAYTRCTSWWRYAWACT</text>
<rect x="245" y="472.45" width="16.7" height="4.9" fill="#ff8010" stroke="#000" stroke-opacity="0.25" stroke-width="0.5"/>
<text class="n" transform="translate(241 477.15) scale(0.72 1)">18.</text>
<text class="s" x="270.9" y="476.75" textLength="132.99" lengthAdjust="spacingAndGlyphs">AKYTACCWAAAYRGSKCCMCWAMRATGGRSARAYKATKM</text>
<rect x="245" y="478.53" width="21.3" height="4.9" fill="#ffee00" stroke="#000" stroke-opacity="0.25" stroke-width="0.5"/>
<text class="n" transform="translate(241 483.23) scale(0.72 1)">19.</text>
<text class="s" x="270.9" y="482.83" textLength="170.5" lengthAdjust="spacingAndGlyphs">TGWKARAAAWCRAARRMMATACTWTWWGMRYMGCWCWYRCTTTGCTTTTC</text>
<rect x="245" y="484.61" width="21.3" height="4.9" fill="#b0f010" stroke="#000" stroke-opacity="0.25" stroke-width="0.5"/>
<text class="n" transform="translate(241 489.31) scale(0.72 1)">20.</text>
<text class="s" x="270.9" y="488.91" textLength="170.5" lengthAdjust="spacingAndGlyphs">GWTTWYTSAWTWTTCRYTGWRWTTCWGMATTCWGGTWAATTTTGTRAAAG</text>
<rect x="245" y="490.69" width="12.7" height="4.9" fill="#40f010" stroke="#000" stroke-opacity="0.25" stroke-width="0.5"/>
<text class="n" transform="translate(241 495.38) scale(0.72 1)">21.</text>
<text class="s" x="270.9" y="494.99" textLength="98.89" lengthAdjust="spacingAndGlyphs">TTYWTTTTATTATATTATATTTTTRAYTT</text>
<rect x="245" y="496.76" width="12.7" height="4.9" fill="#10f010" stroke="#000" stroke-opacity="0.25" stroke-width="0.5"/>
<text class="n" transform="translate(241 501.46) scale(0.72 1)">22.</text>
<text class="s" x="270.9" y="501.06" textLength="98.89" lengthAdjust="spacingAndGlyphs">SWTCWCCTYYTYCTWWTCYTWTCTCTCCA</text>
<rect x="245" y="502.84" width="20.9" height="4.9" fill="#20e870" stroke="#000" stroke-opacity="0.25" stroke-width="0.5"/>
<text class="n" transform="translate(241 507.54) scale(0.72 1)">23.</text>
<text class="s" x="270.9" y="507.14" textLength="167.09" lengthAdjust="spacingAndGlyphs">STRAAAGCTTTATTCTAGCTCTWWWYAWAWAAWAGATATTYRKSMAWYG</text>
<rect x="245" y="508.92" width="21.6" height="4.9" fill="#20f0c0" stroke="#000" stroke-opacity="0.25" stroke-width="0.5"/>
<text class="n" transform="translate(241 513.62) scale(0.72 1)">24.</text>
<text class="s" x="270.9" y="513.22" textLength="170.5" lengthAdjust="spacingAndGlyphs">STAKKTKDHTGAAGAMGWTYSYTKKTMRYCTRVYRWTTKMTTYTKWBTYT</text>
<rect x="245" y="514.99" width="15.3" height="4.9" fill="#20c8f0" stroke="#000" stroke-opacity="0.25" stroke-width="0.5"/>
<text class="n" transform="translate(241 519.69) scale(0.72 1)">25.</text>
<text class="s" x="270.9" y="519.29" textLength="122.76" lengthAdjust="spacingAndGlyphs">TGAATKTATAATTKGAAATKGWGTTRWTTCWRARGG</text>
<rect x="245" y="521.07" width="17.6" height="4.9" fill="#1020e8" stroke="#000" stroke-opacity="0.25" stroke-width="0.5"/>
<text class="n" transform="translate(241 525.77) scale(0.72 1)">27.</text>
<text class="s" x="270.9" y="525.37" textLength="139.81" lengthAdjust="spacingAndGlyphs">TWTTAGTAGGRGTTGGWTWAAATTWTCWYAWWWTTTGTTWS</text>
<rect x="245" y="527.15" width="17.6" height="4.9" fill="#4020e0" stroke="#000" stroke-opacity="0.25" stroke-width="0.5"/>
<text class="n" transform="translate(241 531.85) scale(0.72 1)">28.</text>
<text class="s" x="270.9" y="531.45" textLength="139.81" lengthAdjust="spacingAndGlyphs">TWWYWAWTTTCTAYWTATYTCCWAWWTGGGGGSASAAAAWA</text>
<rect x="245" y="533.22" width="20" height="4.9" fill="#a010e8" stroke="#000" stroke-opacity="0.25" stroke-width="0.5"/>
<text class="n" transform="translate(241 537.92) scale(0.72 1)">29.</text>
<text class="s" x="270.9" y="537.52" textLength="160.27" lengthAdjust="spacingAndGlyphs">KAATRAKYGAGTAAAAGYKDAAWTKATTGGAAAGGRSKAAARAAYAR</text>
<rect x="245" y="539.3" width="21.6" height="4.9" fill="#f010f0" stroke="#000" stroke-opacity="0.25" stroke-width="0.5"/>
<text class="n" transform="translate(241 544) scale(0.72 1)">30.</text>
<text class="s" x="270.9" y="543.6" textLength="170.5" lengthAdjust="spacingAndGlyphs">YAAYCCAWWTGKAYTWATDWMWTCAWRKCATATGWYTAATTAATTTTGKT</text>
</svg></body></html>
